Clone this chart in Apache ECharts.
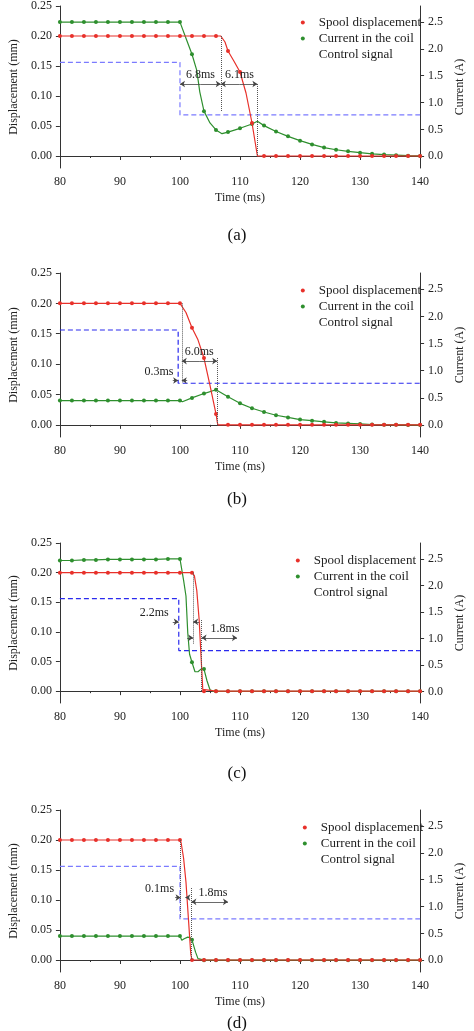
<!DOCTYPE html>
<html><head><meta charset="utf-8">
<script src="https://cdn.jsdelivr.net/npm/echarts@6/dist/echarts.min.js"></script>
<style>html,body{margin:0;padding:0;background:#fff}#c{width:474px;height:1031px}</style>
</head><body><div id="c"></div>
<script>
// ---------- data ----------
const flat = (t0, t1, v) => { const a = []; for (let t = t0; t <= t1; t += 2) a.push([t, v]); return a; };
// Panel (a)
const dispA = [...flat(80,106,0.20),[106.8,0.20],[107.5,0.19],[108,0.175],[109,0.158],[110,0.14],[111,0.105],[112,0.055],[112.9,0.0],...flat(114,140,0.0)];
const curA = [...flat(80,100,2.5),[101,2.2],[102,1.9],[102.8,1.6],[103.3,1.2],[104,0.84],[105,0.62],[106,0.49],[107,0.42],[108,0.45],[110,0.52],[112,0.6],[112.9,0.65],[114,0.57],[116,0.46],[118,0.37],[120,0.29],[122,0.22],[124,0.16],[126,0.12],[128,0.09],[130,0.065],[132,0.045],[134,0.03],[136,0.02],[138,0.01],[140,0.005]];
const ctrlA = [[80,1.75],[100,1.75],[100,0.77],[140,0.77]];
// Panel (b)
const dispB = [...flat(80,100,0.20),[100.3,0.20],[101,0.185],[102,0.16],[103,0.14],[104,0.11],[105,0.065],[106,0.018],[106.3,0.0],...flat(108,140,0.0)];
const curB = [...flat(80,100,0.45),[100.4,0.43],[102,0.5],[104,0.58],[106,0.65],[106.2,0.66],[108,0.52],[110,0.4],[112,0.31],[114,0.24],[116,0.18],[118,0.14],[120,0.1],[122,0.08],[124,0.06],[126,0.04],[128,0.03],[130,0.02],[132,0.01],[134,0.006],[136,0.004],[138,0.002],[140,0.0]];
const ctrlB = [[80,1.75],[99.7,1.75],[99.7,0.77],[140,0.77]];
// Panel (c)
const dispC = [...flat(80,102,0.20),[102.4,0.195],[102.8,0.17],[103.2,0.12],[103.5,0.06],[103.8,0.003],...flat(104,140,0.0)];
const curC = [[80,2.47],[82,2.47],[84,2.48],[86,2.48],[88,2.49],[90,2.49],[92,2.49],[94,2.49],[96,2.49],[98,2.5],[100,2.5],[100.6,2.1],[101,1.8],[101.3,1.1],[101.6,0.7],[102,0.55],[102.5,0.37],[103,0.37],[103.5,0.42],[104,0.42],[104.5,0.2],[105,0.03],[105.5,0.0],...flat(106,140,0.0)];
const ctrlC = [[80,1.75],[99.8,1.75],[99.8,0.77],[140,0.77]];
// Panel (d)
const dispD = [...flat(80,100,0.20),[100.2,0.195],[100.6,0.17],[101,0.13],[101.4,0.07],[101.8,0.01],[102,0.0],...flat(104,140,0.0)];
const curD = [...flat(80,100,0.45),[100.3,0.37],[100.7,0.4],[101.3,0.43],[101.7,0.42],[102,0.38],[102.6,0.15],[103,0.03],[103.3,0.0],...flat(104,140,0.0)];
const ctrlD = [[80,1.75],[100,1.75],[100,0.77],[140,0.77]];

// annotations (in displacement units): vertical dotted lines, arrows, labels
const annA = {v:[[106.8,0.2,0.075],[112.9,0.12,0.0]], arr:[[103.4,100,0.12],[103.4,106.8,0.12],[109.9,106.8,0.12],[109.9,112.9,0.12]], lab:[[103.4,0.12,'6.8ms'],[109.9,0.12,'6.1ms']]};
const annB = {v:[[100.3,0.2,0.07],[106.2,0.11,0.0]], arr:[[98.8,99.7,0.073],[101.2,100.3,0.073],[103.2,100.3,0.105],[103.2,106.2,0.105]], lab:[[96.5,0.073,'0.3ms'],[103.2,0.105,'6.0ms']]};
const annC = {v:[[102.2,0.2,0.08],[103.6,0.12,0.0]], arr:[[98.8,99.8,0.117],[103.2,102.2,0.117],[101.2,102.2,0.09],[105.5,103.6,0.09],[105.5,109.5,0.09]], lab:[[95.7,0.117,'2.2ms'],[107.5,0.09,'1.8ms']]};
const annD = {v:[[100.1,0.2,0.07],[101.9,0.12,0.0]], arr:[[99.2,100.1,0.104],[101.4,100.9,0.104],[103,101.9,0.097],[103,108,0.097]], lab:[[96.6,0.104,'0.1ms'],[105.5,0.097,'1.8ms']]};

const panels = [
  {disp:dispA,cur:curA,ctrl:ctrlA,ann:annA,name:'(a)',left:42,right:36,top:5,height:163,ctrlColor:'#7b7bff',cap:222},
  {disp:dispB,cur:curB,ctrl:ctrlB,ann:annB,name:'(b)',left:40,right:36,top:273,height:164,ctrlColor:'#2a2aee',cap:486},
  {disp:dispC,cur:curC,ctrl:ctrlC,ann:annC,name:'(c)',left:45,right:41,top:543,height:160,ctrlColor:'#2a2aee',cap:760},
  {disp:dispD,cur:curD,ctrl:ctrlD,ann:annD,name:'(d)',left:50,right:34,top:810,height:162,ctrlColor:'#7b7bff',cap:1010}
];
// ---------- chart ----------
const FONT = 'Liberation Serif';
const RED = '#e8302a', GREEN = '#2e8f2e';
const mk = arr => arr.map(p => ({value:p, symbol:(Number.isInteger(p[0]) && p[0]%2===0)?'circle':'none'}));
const opt = {animation:false, textStyle:{fontFamily:FONT}, grid:[], xAxis:[], yAxis:[], series:[], legend:[], title:[]};
panels.forEach((p,i)=>{
  opt.grid.push({left:p.left,right:p.right,top:p.top,height:p.height});
  opt.title.push({text:p.name,left:'center',top:p.cap,textStyle:{fontFamily:FONT,fontSize:17,fontWeight:'normal',color:'#111'}});
  opt.xAxis.push({type:'value',gridIndex:i,min:80,max:140,interval:10,name:'Time (ms)',nameLocation:'middle',nameGap:24,
    nameTextStyle:{fontFamily:FONT,fontSize:12,color:'#222'},
    axisLine:{lineStyle:{color:'#333'}},axisTick:{inside:false,length:4},minorTick:{show:true,splitNumber:2,length:2},
    splitLine:{show:false},axisLabel:{fontFamily:FONT,fontSize:12,color:'#222'}});
  const lv=[0,0.05,0.1,0.15,0.2,0.25], rv=[0,0.5,1,1.5,2,2.5];
  opt.yAxis.push({type:'value',gridIndex:i,min:-0.02,max:0.25,name:'Displacement (mm)',nameLocation:'middle',nameGap:30,
    nameTextStyle:{fontFamily:FONT,fontSize:12,color:'#222'},axisLine:{show:true,lineStyle:{color:'#333'}},
    axisTick:{show:true,length:4,customValues:lv},splitLine:{show:false},
    axisLabel:{fontFamily:FONT,fontSize:12,color:'#222',customValues:lv,formatter:v=>v.toFixed(2)}});
  opt.yAxis.push({type:'value',gridIndex:i,position:'right',min:-0.22,max:2.8,name:'Current (A)',nameLocation:'middle',nameGap:26,
    nameTextStyle:{fontFamily:FONT,fontSize:12,color:'#222'},axisLine:{show:true,lineStyle:{color:'#333'}},
    axisTick:{show:true,length:4,customValues:rv},splitLine:{show:false},
    axisLabel:{fontFamily:FONT,fontSize:12,color:'#222',customValues:rv,formatter:v=>v.toFixed(1)}});
  const yl=2*i, yr=2*i+1;
  opt.series.push({name:'Spool displacement',type:'line',xAxisIndex:i,yAxisIndex:yl,data:mk(p.disp),symbolSize:4,
    lineStyle:{color:RED,width:1.2},itemStyle:{color:RED},z:4});
  opt.series.push({name:'Current in the coil',type:'line',xAxisIndex:i,yAxisIndex:yr,data:mk(p.cur),symbolSize:4,
    lineStyle:{color:GREEN,width:1.2},itemStyle:{color:GREEN},z:3});
  opt.series.push({name:'Control signal',type:'line',xAxisIndex:i,yAxisIndex:yr,data:p.ctrl,showSymbol:false,
    lineStyle:{color:p.ctrlColor,width:1.2,type:[5,3]},itemStyle:{color:p.ctrlColor},z:2});
  const ml=[];
  p.ann.v.forEach(v=>ml.push([{coord:[v[0],v[1]],symbol:'none',lineStyle:{type:'dotted',color:'#555',width:1}},{coord:[v[0],v[2]],symbol:'none'}]));
  p.ann.arr.forEach(a=>ml.push([{coord:[a[0],a[2]],symbol:'none',lineStyle:{type:'solid',color:'#444',width:0.8}},{coord:[a[1],a[2]],symbol:'arrow',symbolSize:[5,5]}]));
  opt.series.push({type:'line',xAxisIndex:i,yAxisIndex:yl,data:[],silent:true,
    markLine:{silent:true,symbol:'none',label:{show:false},data:ml},
    markPoint:{silent:true,symbol:'circle',symbolSize:0,data:p.ann.lab.map(l=>({coord:[l[0],l[1]],value:l[2],
      label:{show:true,formatter:l[2],position:'top',distance:3,fontFamily:FONT,fontSize:12,color:'#222'}}))}});
  opt.legend.push({data:[{name:'Spool displacement',icon:'circle'},{name:'Current in the coil',icon:'circle'},{name:'Control signal',icon:'none'}],orient:'vertical',
    right:p.right+12,top:p.top+6,itemGap:3,itemWidth:22,itemHeight:4,
    textStyle:{fontFamily:FONT,fontSize:13,color:'#222'},selectedMode:false});
});
const ch = echarts.init(document.getElementById('c'));
ch.setOption(opt);
</script></body></html>
